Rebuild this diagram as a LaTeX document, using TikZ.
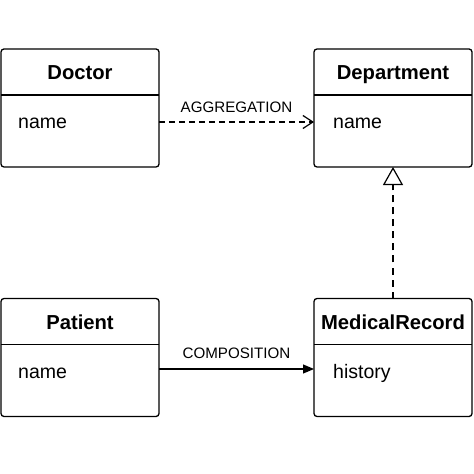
\documentclass[tikz,border=0pt]{standalone}
\usepackage{fontspec}
\setmainfont{Liberation Sans}
\usetikzlibrary{arrows.meta}
\begin{document}
\begin{tikzpicture}[x=1bp,y=-1bp,
  classbox/.style={draw=black, line width=1.3bp, rounded corners=3bp, minimum width=158bp, minimum height=118bp, inner sep=0pt, outer sep=0pt},
  classtitle/.style={font=\fontsize{20.3}{24}\selectfont\bfseries, anchor=base, inner sep=0pt},
  classattr/.style={font=\fontsize{19.6}{23}\selectfont, anchor=base west, inner sep=0pt},
  lbl/.style={font=\fontsize{15.2}{18}\selectfont, inner sep=0pt},
  conn/.style={line width=1.2bp}
]
\useasboundingbox (0,0) rectangle (474,474);

% boxes
\node[classbox] (doctor) at (80,108) {};
\node[classbox] (dept) at (393,108) {};
\node[classbox] (patient) at (80,357.5) {};
\node[classbox] (rec) at (393,357.5) {};

% dividers
\foreach \b in {doctor,dept,patient,rec}{
  \draw[line width=1.3bp] ([yshift=-46bp]\b.north west) -- ([yshift=-46bp]\b.north east);
}

% titles
\node[classtitle] (doctortitle) at ([yshift=-30.5bp]doctor.north) {Doctor};
\node[classtitle] (depttitle) at ([yshift=-30.5bp]dept.north) {Department};
\node[classtitle] (patienttitle) at ([yshift=-30.5bp]patient.north) {Patient};
\node[classtitle] (rectitle) at ([yshift=-30.5bp]rec.north) {MedicalRecord};

% attributes
\node[classattr] (doctorname) at ([xshift=17bp,yshift=-80bp]doctor.north west) {name};
\node[classattr] (deptname) at ([xshift=19bp,yshift=-80bp]dept.north west) {name};
\node[classattr] (patientname) at ([xshift=17bp,yshift=-80bp]patient.north west) {name};
\node[classattr] (rechistory) at ([xshift=19bp,yshift=-80bp]rec.north west) {history};

% aggregation (dashed, open arrow)
\draw[conn, dash pattern=on 6bp off 4bp, -{Straight Barb[length=10bp,width=13bp,line width=1.2bp]}]
  ([yshift=-73bp]doctor.north east) -- ([yshift=-73bp]dept.north west)
  node[lbl, midway, above=9bp] (agglabel) {AGGREGATION};

% generalization (dashed, hollow triangle)
\draw[conn, dash pattern=on 7bp off 5bp, -{Triangle[open, length=18bp, width=20bp, fill=white]}]
  (rec.north) -- (dept.south);

% composition (solid, filled arrow)
\draw[conn, -{Triangle[length=11bp,width=9bp]}]
  ([yshift=-70.5bp]patient.north east) -- ([yshift=-70.5bp]rec.north west)
  node[lbl, midway, above=10bp] (complabel) {COMPOSITION};
\end{tikzpicture}
\end{document}
